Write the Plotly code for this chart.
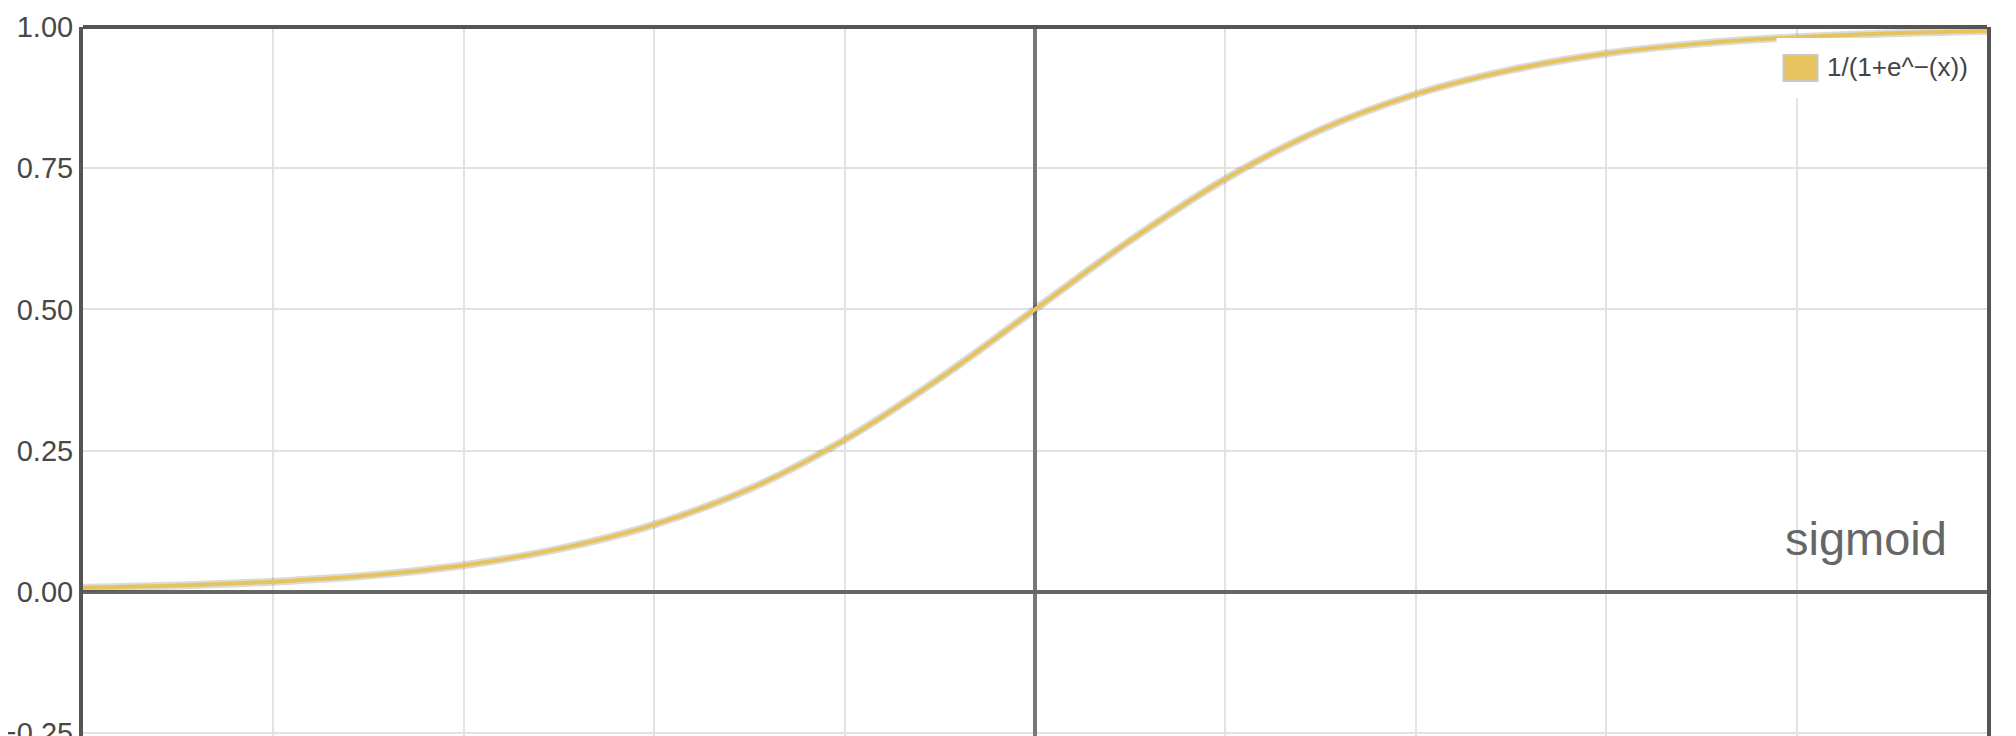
import plotly.graph_objects as go

# values
x_vals = [-5, -4.5, -4, -3.5, -3, -2.5, -2, -1.5, -1, -0.5, 0,
          0.5, 1, 1.5, 2, 2.5, 3, 3.5, 4, 4.5, 5]
y_vals = [0.007, 0.011, 0.018, 0.029, 0.047, 0.076, 0.119, 0.182, 0.269, 0.378, 0.5,
          0.622, 0.731, 0.818, 0.881, 0.924, 0.953, 0.971, 0.982, 0.989, 0.993]
y_ticks = [-0.25, 0, 0.25, 0.5, 0.75, 1.0]
y_tick_text = ["\u22120.25", "0.00", "0.25", "0.50", "0.75", "1.00"]
series_name = "1/(1+e^\u2212(x))"
label = "sigmoid"

gold = "#e6c35c"

fig = go.Figure()

# soft shadow under the curve
fig.add_trace(go.Scatter(x=x_vals, y=y_vals, mode="lines", line_shape="spline",
                         line=dict(color="rgba(0,0,0,0.14)", width=8),
                         hoverinfo="skip", showlegend=False))
fig.add_trace(go.Scatter(x=x_vals, y=y_vals, mode="lines", line_shape="spline",
                         line=dict(color=gold, width=4), name=series_name, showlegend=False))

fig.update_xaxes(range=[-5, 5], dtick=1, showticklabels=False,
                 showgrid=True, gridcolor="#e2e2e2", gridwidth=2,
                 zeroline=True, zerolinecolor="#777777", zerolinewidth=4,
                 showline=False, automargin=False, fixedrange=True)
fig.update_yaxes(range=[-0.2553, 1.0], tickvals=y_ticks, ticktext=y_tick_text,
                 showgrid=True, gridcolor="#e2e2e2", gridwidth=2,
                 zeroline=True, zerolinecolor="#666666", zerolinewidth=4,
                 showline=True, mirror=True, linecolor="#555555", linewidth=4,
                 ticks="", ticklabelstandoff=0, ticklabeloverflow="allow",
                 automargin=False,
                 tickfont=dict(size=29, color="#484848"), fixedrange=True)

# top border of the frame
fig.add_shape(type="line", xref="paper", yref="paper", x0=0, x1=1, y0=1, y1=1,
              line=dict(color="#555555", width=4))

# legend box: white panel, square swatch, label
fig.add_shape(type="rect", xref="paper", yref="paper", x0=0.8895, x1=0.996, y0=0.900, y1=0.9845,
              fillcolor="white", line=dict(width=0), layer="above")
fig.add_shape(type="rect", xref="paper", yref="paper", x0=0.8931, x1=0.9110, y0=0.9238, y1=0.9605,
              fillcolor=gold, line=dict(color="#c8c8c8", width=2), layer="above")
fig.add_annotation(text=series_name, xref="paper", yref="paper", x=0.9151, y=0.9436,
                   xanchor="left", yanchor="middle", showarrow=False,
                   font=dict(size=26, color="#444444"))

fig.add_annotation(text=label, xref="x", yref="y", x=4.8, y=0.095,
                   xanchor="right", yanchor="middle", showarrow=False,
                   font=dict(size=47, color="#666666"))

fig.update_layout(
    width=2008, height=728,
    margin=dict(l=75, r=29, t=19, b=0),
    paper_bgcolor="white", plot_bgcolor="white",
    font=dict(family="Liberation Sans, Arial, sans-serif", color="#444444"),
    showlegend=False,
)

fig.write_html("out.html")
